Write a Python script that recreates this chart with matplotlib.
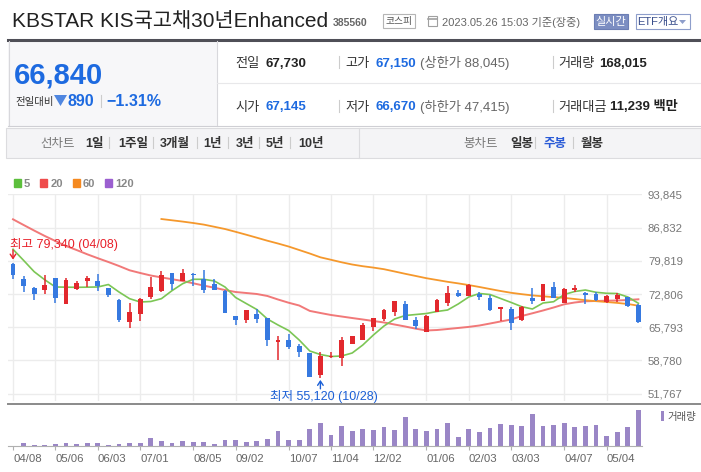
import matplotlib
matplotlib.use('Agg')
import matplotlib.pyplot as plt
from matplotlib.patches import Rectangle, Polygon, Patch
from matplotlib.lines import Line2D

plt.rcParams['font.family'] = ['Liberation Sans', 'Noto Sans CJK KR']

W, H = 701, 472

# weekly candles 2022-04-08 .. 2023-05-22
opens = [79140, 75970, 74010, 73720, 76180, 70760, 73860, 75550, 75490, 74010,
         71540, 66900, 68650, 72180, 73380, 77240, 75550, 76880, 75970, 74920,
         73510, 68170, 67320, 68590, 67740, 62620, 63170, 61840, 60360, 55780,
         59500, 59370, 62320, 63170, 65910, 67470, 68950, 70760, 67320, 64850,
         69070, 70970, 73080, 72450, 72870, 72030, 69710, 69580, 67320, 71960,
         71390, 74290, 70970, 73720, 73020, 72870, 71180, 71750, 72180, 70490]
highs = [79340, 76670, 74290, 76880, 76250, 76120, 75620, 76610, 77030, 74100,
         71820, 70910, 71900, 76400, 77660, 77300, 78080, 77300, 77870, 75970,
         73550, 68200, 69450, 69580, 67800, 63950, 64370, 62200, 60400, 60570,
         60570, 63670, 63900, 66630, 67700, 69580, 71400, 71330, 67960, 68380,
         71690, 74500, 73650, 74920, 73230, 72600, 70000, 70130, 70280, 74070,
         74950, 75340, 74070, 74710, 73300, 73170, 72660, 73020, 72200, 70630]
lows = [76040, 73290, 71610, 72810, 70970, 70760, 73650, 74350, 73510, 72240,
        66960, 65700, 67110, 71820, 73170, 73650, 75500, 74500, 73080, 73650,
        68800, 66330, 66690, 66750, 61900, 58950, 61270, 59580, 55300, 55120,
        59300, 57620, 62300, 63150, 65070, 67110, 68230, 67300, 65420, 64800,
        68950, 70340, 72240, 72400, 71610, 69220, 67110, 65280, 67110, 70760,
        71350, 71900, 70950, 73170, 70760, 71270, 70970, 71060, 70070, 66670]
closes = [76880, 74560, 72870, 74710, 72030, 75760, 75130, 76180, 74560, 72530,
          67320, 69010, 71750, 74290, 76820, 74980, 77240, 76750, 73720, 73720,
          68860, 67390, 69430, 67600, 63170, 63100, 61630, 60630, 55360, 59730,
          59790, 63100, 63880, 66270, 67680, 69430, 71330, 67390, 65990, 68170,
          71540, 73020, 72450, 74710, 72240, 69430, 70000, 66750, 70070, 71390,
          74920, 71960, 73860, 74070, 72660, 71540, 72450, 72660, 70340, 66840]

ma5 = [82240, 79900, 77510, 75800, 74290, 74250, 74220, 74250, 74290, 74810,
       73230, 71820, 71120, 71230, 71820, 73510, 74980, 75910, 75910, 75550,
       74290, 72070, 70800, 69540, 67530, 66270, 65110, 63100, 60780, 60040,
       59620, 59730, 60360, 62050, 64160, 66060, 67530, 68270, 68480, 68690,
       69120, 69430, 70700, 72180, 72910, 72700, 71860, 71020, 70130, 69640,
       70910, 71180, 72700, 73340, 73650, 73170, 72960, 72910, 72180, 70850]
ma20 = [88570, 87370, 86190, 85050, 83990, 82940, 82090, 81190, 80360, 79560,
        78720, 77810, 77240, 76710, 76310, 75930, 75550, 75070, 74580, 74120,
        73650, 73230, 73020, 72810, 72390, 71650, 70970, 70380, 69240, 68800,
        68380, 68060, 67740, 67430, 67110, 66800, 66370, 65950, 65490, 65110,
        65210, 65420, 65640, 65870, 66160, 66580, 67010, 67430, 68170, 68740,
        69330, 69960, 70640, 71020, 71270, 71330, 71390, 71440, 71540, 71690]
ma60_start = 14
ma60 = [88630, 88360, 88090, 87790, 87450, 86990, 86520, 85930, 85320, 84690,
        84050, 83460, 82830, 82090, 81350, 80550, 80030, 79500, 79030, 78670,
        78380, 78040, 77560, 77070, 76610, 76140, 75760, 75380, 75050, 74690,
        74290, 73860, 73440, 73060, 72770, 72510, 72320, 72150, 71990, 71750,
        71500, 71290, 71120, 70930, 70700, 70340]

# weekly volume, thousand shares
volume = [0, 54, 18, 18, 36, 54, 36, 54, 54, 18, 36, 54, 54, 144, 90, 54, 90, 72, 72, 36,
          108, 108, 72, 90, 126, 270, 108, 108, 306, 414, 198, 360, 270, 306, 288, 342,
          288, 522, 306, 270, 306, 414, 162, 306, 252, 324, 396, 378, 360, 576, 360, 378,
          414, 342, 360, 378, 180, 252, 342, 648]

tick_idx = [0, 4, 8, 12, 17, 21, 26, 30, 34, 39, 43, 47, 52, 56]
tick_labels = ['04/08', '05/06', '06/03', '07/01', '08/05', '09/02', '10/07',
               '11/04', '12/02', '01/06', '02/03', '03/03', '04/07', '05/04']
price_ticks = [93845, 86832, 79819, 72806, 65793, 58780, 51767]

UP, DOWN = '#e2282d', '#3679e0'
BLUE = '#1d6ae0'

fig = plt.figure(figsize=(W / 100, H / 100), dpi=100)


def fx(x):
    return x / W


def fy(y):
    return 1 - y / H


def t(x, y, s, **kw):
    fig.text(fx(x), fy(y), s, va='baseline', **kw)


def rect(x0, y0, x1, y1, fc='none', ec='none', lw=1.0):
    fig.add_artist(Rectangle((fx(x0), fy(y1)), fx(x1) - fx(x0), fy(y0) - fy(y1),
                             transform=fig.transFigure, fc=fc, ec=ec, lw=lw))


def line(x0, y0, x1, y1, color, lw=0.8):
    fig.add_artist(Line2D([fx(x0), fx(x1)], [fy(y0), fy(y1)], transform=fig.transFigure,
                          color=color, lw=lw))


# ---- header ----
t(12, 27, 'KBSTAR KIS국고채30년Enhanced', fontsize=15, color='#222222')
t(333, 26, '385560', fontsize=7.5, color='#666666', fontweight='bold')
rect(383, 14, 415, 28, fc='white', ec='#b5b5b5', lw=0.8)
fig.text(fx(399), fy(21), '코스피', fontsize=7, color='#555555', ha='center', va='center')
rect(428, 16, 437, 26, fc='white', ec='#a0a0a0', lw=0.8)
line(428, 18.5, 437, 18.5, '#a0a0a0', 1.2)
t(442, 26, '2023.05.26 15:03 기준(장중)', fontsize=8, color='#666666')
rect(594, 14, 628, 29, fc='#7c8ec2', ec='#6c7eb4', lw=0.8)
fig.text(fx(611), fy(21.5), '실시간', fontsize=8, color='white', ha='center', va='center')
rect(636, 14, 690, 29, fc='white', ec='#8e9ecb', lw=0.8)
fig.text(fx(658), fy(21.5), 'ETF개요', fontsize=8, color='#3a4f8c', ha='center', va='center')
fig.add_artist(Polygon([(fx(679), fy(20)), (fx(686), fy(20)), (fx(682.5), fy(24))],
                       transform=fig.transFigure, fc='#8e9ecb', ec='none'))

rect(8, 41, 216.5, 126, fc='#f7f7f9')
line(8, 39.5, 701, 39.5, '#4f4f57', 2.2)
line(8.5, 41, 8.5, 126, '#d8d8dc')
line(216.5, 41, 216.5, 126, '#d8d8dc')
line(216.5, 83, 701, 83, '#e8e8ea')
line(8, 126, 701, 126, '#cfcfd4')

t(14, 83, '66,840', fontsize=21, color=BLUE, fontweight='bold')
t(15, 105, '전일대비', fontsize=7.5, color='#333333')
fig.add_artist(Polygon([(fx(54), fy(95)), (fx(67), fy(95)), (fx(60.5), fy(106))],
                       transform=fig.transFigure, fc='#4f86e0', ec='none'))
t(68, 106, '890', fontsize=11.5, color=BLUE, fontweight='bold')
line(100.5, 95, 100.5, 107, '#cccccc')
t(106, 106, '−1.31%', fontsize=11.5, color=BLUE, fontweight='bold')

for yb, lab1, v1, c1, lab2, v2, lim, lab3, v3 in [
        (67, '전일', '67,730', '#222222', '고가', '67,150', '(상한가 88,045)', '거래량', '168,015'),
        (110.5, '시가', '67,145', BLUE, '저가', '66,670', '(하한가 47,415)', '거래대금', '11,239 백만')]:
    t(235, yb, lab1, fontsize=9.5, color='#333333')
    t(265, yb, v1, fontsize=9.5, color=c1, fontweight='bold')
    line(338.5, yb - 11, 338.5, yb + 1, '#cccccc')
    t(345, yb, lab2, fontsize=9.5, color='#333333')
    t(375, yb, v2, fontsize=9.5, color=BLUE, fontweight='bold')
    t(420, yb, lim, fontsize=9.5, color='#666666')
    line(552.5, yb - 11, 552.5, yb + 1, '#cccccc')
    t(558, yb, lab3, fontsize=9.5, color='#333333')
    t(599 if lab3 == '거래량' else 610, yb, v3, fontsize=9.5, color='#222222', fontweight='bold')

# ---- tab bar ----
rect(6, 128, 701, 158, fc='#f4f4f6', ec='#dcdcdf', lw=0.8)
line(358.5, 128, 358.5, 158, '#dcdcdf')
tb = 147
t(40, tb, '선차트', fontsize=9, color='#777777')
t(463, tb, '봉차트', fontsize=9, color='#777777')
tabs = [(85, '1일', '#333333'), (118, '1주일', '#333333'), (160, '3개월', '#333333'),
        (203, '1년', '#333333'), (236, '3년', '#333333'), (266, '5년', '#333333'),
        (298, '10년', '#333333'), (510, '일봉', '#333333'), (543, '주봉', '#2a5bd7'),
        (581, '월봉', '#333333')]
for x, s, c in tabs:
    t(x, tb, s, fontsize=9, color=c, fontweight='bold')
for x in [109, 153, 197, 228, 259, 290, 535, 573]:
    line(x, 137, x, 148, '#cccccc')

# ---- price panel ----
idx = list(range(len(closes)))
x_lo, x_hi = (8 - 13) / 10.6, (642 - 13) / 10.6
ax = fig.add_axes([fx(8), fy(401), fx(642) - fx(8), fy(194.3) - fy(401)])
ax.set_xlim(x_lo, x_hi)
ax.set_ylim(93845 - (401 - 194.3) * 211, 93845)
for s in ax.spines.values():
    s.set_visible(False)
ax.set_xticks(tick_idx)
ax.set_xticklabels([])
ax.set_yticks(price_ticks, [f'{v:,}' for v in price_ticks])
ax.yaxis.tick_right()
ax.tick_params(axis='both', length=0)
ax.tick_params(axis='y', pad=4.3, labelsize=8.2, labelcolor='#777777')
ax.grid(True, color='#ececec', lw=1)
ax.set_axisbelow(True)

ax.plot(idx, ma20, color='#f06a6a', lw=1.4, alpha=0.9, zorder=2)
ax.plot(range(ma60_start, ma60_start + len(ma60)), ma60, color='#f5982c', lw=1.3, zorder=2)
ax.plot(idx, ma5, color='#7cc655', lw=1.2, zorder=2)

cols = [UP if c > o else DOWN for o, c in zip(opens, closes)]
bottoms = [min(o, c) for o, c in zip(opens, closes)]
heights = [max(abs(c - o), 230) for o, c in zip(opens, closes)]
ax.vlines(idx, lows, highs, colors=cols, lw=1.1, zorder=3, clip_on=False)
ax.bar(idx, heights, bottom=bottoms, width=0.46, color=cols, zorder=4, clip_on=False)

ax.annotate('최고 79,340 (04/08)', xy=(0, highs[0]), xytext=(-3, 19), textcoords='offset pixels',
            ha='left', va='center', fontsize=9, color='#e8202a', annotation_clip=False)
ax.annotate('', xy=(0, highs[0]), xytext=(0, 13), textcoords='offset pixels',
            arrowprops=dict(arrowstyle='->,head_length=0.3,head_width=0.2', color='#e8202a',
                            lw=1, shrinkA=0, shrinkB=2.5), annotation_clip=False)
ax.annotate('최저 55,120 (10/28)', xy=(29, lows[29]), xytext=(3, -19), textcoords='offset pixels',
            ha='center', va='center', fontsize=9, color='#1a5fd6', annotation_clip=False)
ax.annotate('', xy=(29, lows[29]), xytext=(0, -11), textcoords='offset pixels',
            arrowprops=dict(arrowstyle='->,head_length=0.3,head_width=0.2', color='#1a5fd6',
                            lw=1, shrinkA=0, shrinkB=1.5), annotation_clip=False)

# MA legend
handles = [Patch(color=c) for c in ['#5cbf3c', '#ef4b4b', '#f5891f', '#9b5fd0']]
leg = ax.legend(handles, ['5', '20', '60', '120'], loc='center left',
                bbox_to_anchor=(fx(14), fy(184)), bbox_transform=fig.transFigure,
                ncol=4, frameon=False, handlelength=0.65, handleheight=0.65,
                handletextpad=0.25, columnspacing=0.9, borderpad=0, borderaxespad=0,
                prop={'size': 8, 'weight': 'bold'})
for tx in leg.get_texts():
    tx.set_color('#888888')

# ---- volume panel ----
ax2 = fig.add_axes([fx(8), fy(446), fx(642) - fx(8), fy(404) - fy(446)])
ax2.set_xlim(x_lo, x_hi)
ax2.set_ylim(0, 648 * 42 / 36)
ax2.bar(idx, volume, width=0.44, color='#9a86c6')
for k in ['top', 'left', 'right']:
    ax2.spines[k].set_visible(False)
ax2.spines['bottom'].set_color('#b0b0b0')
ax2.set_yticks([])
ax2.set_xticks(tick_idx, tick_labels)
ax2.tick_params(axis='x', length=2.9, color='#b0b0b0', pad=2.5, labelsize=8.2, labelcolor='#666666')
for lab in ax2.get_xticklabels():
    lab.set_horizontalalignment('left')

line(8, 404, 701, 404, '#8a8a8a', 1.4)
rect(661, 411, 664, 421, fc='#9a86c6')
t(667, 420, '거래량', fontsize=7.5, color='#555555')

fig.savefig('out.png', dpi=100, facecolor='white')
